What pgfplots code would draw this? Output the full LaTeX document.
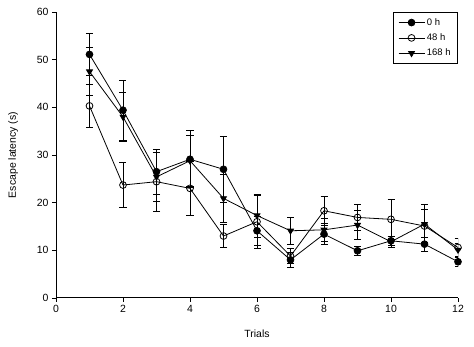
\documentclass[border=0pt]{standalone}
\usepackage{fontspec}
\setmainfont{Liberation Sans}
\usepackage{pgfplots}
\usepackage{pgfplotstable}
\pgfplotsset{compat=1.18}
\pgfplotstableread{
x y e
1 51.1 4.4
2 39.4 6.3
3 26.5 4.7
4 29.1 6.0
5 27.0 7.0
6 14.1 3.0
7 8.0 1.5
8 13.4 2.2
9 9.9 1.0
10 12.0 1.0
11 11.3 1.5
12 7.6 1.0
}\tzero
\pgfplotstableread{
x y e
1 40.3 4.6
2 23.7 4.7
3 24.4 6.2
4 23.0 5.6
5 13.0 2.4
6 16.0 5.5
7 8.8 1.6
8 18.3 3.0
9 16.9 2.8
10 16.5 4.2
11 15.1 3.5
12 10.6 1.8
}\tfortyeight
\pgfplotstableread{
x y e
1 47.5 5.0
2 38.0 5.1
3 25.4 5.2
4 28.8 5.4
5 20.9 5.1
6 17.3 4.5
7 14.1 2.8
8 14.3 2.5
9 15.3 3.0
10 11.8 1.2
11 15.5 4.2
12 10.1 1.4
}\tonesixtyeight
\begin{document}
\begin{tikzpicture}
\begin{axis}[
  name=ax,
  scale only axis,
  width=402bp, height=286bp,
  xmin=0, xmax=12, ymin=0, ymax=60,
  axis lines*=left,
  axis line style={line width=1pt},
  xtick={0,2,...,12}, ytick={0,10,...,60},
  tick align=outside, tick style={line width=0.8pt, black}, major tick length=4bp,
  /pgf/number format/assume math mode=true,
  tick label style={font=\fontsize{10.5}{12}\selectfont},
  xlabel={Trials}, ylabel={Escape latency (s)},
  label style={font=\fontsize{10.5}{12}\selectfont},
  xlabel style={yshift=-10bp},
  ylabel style={yshift=12bp},
  legend style={at={(1,1)}, anchor=north east, draw=black, line width=0.8pt,
    font=\fontsize{9.5}{11}\selectfont, inner xsep=5bp, inner ysep=4bp, row sep=3bp,
    cells={anchor=west}},
  legend image code/.code={%
    \draw[mark repeat=2,mark phase=2] plot coordinates {(0bp,0bp) (13bp,0bp) (26bp,0bp)};},
  legend cell align=left,
  every axis plot/.append style={black, line width=0.8pt, mark size=3.4bp},
  error bars/y dir=both, error bars/y explicit,
  error bars/error mark options={rotate=90, mark size=3.5bp, line width=0.8pt},
  error bars/error bar style={line width=0.8pt},
]
\addplot[mark=*, mark options={fill=black}] table[x=x, y=y, y error=e]{\tzero};
\addlegendentry{0 h}
\addplot[mark=o, mark options={fill=white}] table[x=x, y=y, y error=e]{\tfortyeight};
\addlegendentry{48 h}
\addplot[mark=triangle*, mark options={fill=black, rotate=180}] table[x=x, y=y, y error=e]{\tonesixtyeight};
\addlegendentry{168 h}
\end{axis}
\pgfresetboundingbox
\path[use as bounding box] ([xshift=-56bp,yshift=-49bp]ax.south west) rectangle ([xshift=16bp,yshift=12bp]ax.north east);
\end{tikzpicture}
\end{document}
